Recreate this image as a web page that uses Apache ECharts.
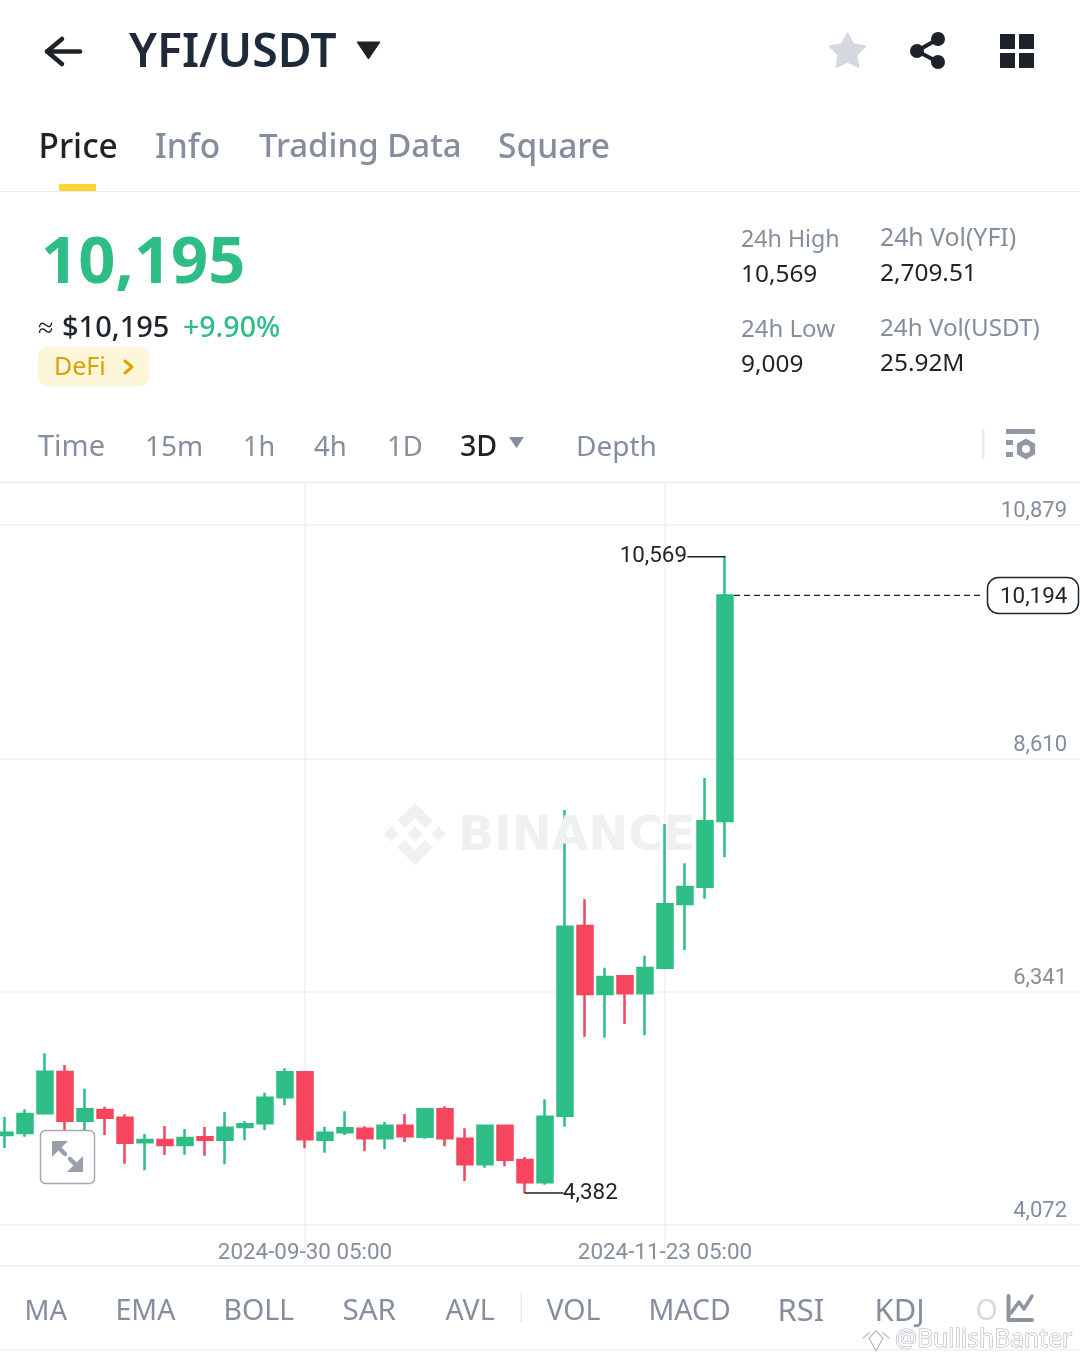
<!DOCTYPE html>
<html><head><meta charset="utf-8"><style>html,body{margin:0;padding:0;background:#fff}#c{width:1080px;height:1361px}</style>
<script src="https://cdn.jsdelivr.net/npm/echarts@6/dist/echarts.min.js"></script></head><body><div id="c"></div>
<script>
const categories = ["2024-08-16 05:00","2024-08-19 05:00","2024-08-22 05:00","2024-08-25 05:00","2024-08-28 05:00","2024-08-31 05:00","2024-09-03 05:00","2024-09-06 05:00","2024-09-09 05:00","2024-09-12 05:00","2024-09-15 05:00","2024-09-18 05:00","2024-09-21 05:00","2024-09-24 05:00","2024-09-27 05:00","2024-09-30 05:00","2024-10-03 05:00","2024-10-06 05:00","2024-10-09 05:00","2024-10-12 05:00","2024-10-15 05:00","2024-10-18 05:00","2024-10-21 05:00","2024-10-24 05:00","2024-10-27 05:00","2024-10-30 05:00","2024-11-02 05:00","2024-11-05 05:00","2024-11-08 05:00","2024-11-11 05:00","2024-11-14 05:00","2024-11-17 05:00","2024-11-20 05:00","2024-11-23 05:00","2024-11-26 05:00","2024-11-29 05:00","2024-12-02 05:00","2024-12-05 05:00","2024-12-08 05:00","2024-12-11 05:00","2024-12-14 05:00","2024-12-17 05:00","2024-12-20 05:00","2024-12-23 05:00","2024-12-26 05:00","2024-12-29 05:00","2025-01-01 05:00","2025-01-04 05:00","2025-01-07 05:00","2025-01-10 05:00","2025-01-13 05:00","2025-01-16 05:00","2025-01-19 05:00","2025-01-22 05:00","2025-01-25 05:00"];
const xTickLabels = ["2024-09-30 05:00","2024-11-23 05:00"];
const yTicks = [4072,6341,8610,10879];
const opens  = [4947,4967,5158,5560,5086,5190,5115,4876,4899,4850,4925,4901,5025,5061,5314,5557,4901,4973,5008,4915,5038,4931,5197,4911,4662,5038,4704,4487,5135,6980,6318,6490,6325,6574,7193,7362,8001];
const closes = [4970,5151,5563,5086,5197,5115,4872,4899,4850,4918,4901,5018,5051,5310,5557,4905,4970,5012,4915,5038,4934,5197,4915,4662,5038,4707,4487,5125,6973,6318,6484,6325,6571,7191,7359,7998,10194];
const lows   = [4821,4931,5156,4996,4996,4947,4668,4604,4753,4756,4746,4662,4896,4996,5236,4818,4775,4947,4789,4808,4879,4911,4837,4500,4629,4643,4382,4464,5028,5903,5893,6027,5917,6558,6746,7245,7648];
const highs  = [5122,5197,5742,5628,5397,5222,5148,4957,5035,5005,5025,5171,5083,5358,5596,5557,5028,5178,5032,5074,5151,5210,5226,5012,5038,5038,4733,5294,8108,7239,6574,6503,6691,7971,7589,8419,10569];
const highLabel = 10569, lowLabel = 4382, lastLabel = 10194;

const UP='#2EBD85', DOWN='#F6465D', INK='#1E2329', GREY='#848E9C', RULE='#F0F1F3';
const FONT='"Noto Sans"';
const chart = echarts.init(document.getElementById('c'));
const fmt = v => v.toLocaleString('en-US');
chart.setOption({
  animation:false, backgroundColor:'#fff',
  grid:{left:-5,top:483,width:1100,height:782,outerBoundsMode:'none'},
  xAxis:{type:'category',data:categories,boundaryGap:true,
    axisLine:{show:false},axisTick:{show:false},
    axisLabel:{inside:true,margin:1,verticalAlign:'bottom',color:GREY,fontSize:22.4,fontFamily:'Roboto',
      interval:(i,v)=>xTickLabels.includes(v),formatter:v=>v},
    splitLine:{show:true,alignWithLabel:true,interval:(i,v)=>xTickLabels.includes(v),lineStyle:{color:RULE,width:1.5}}},
  yAxis:{type:'value',position:'right',min:3683,max:11287,scale:true,
    axisLine:{show:false},axisTick:{show:false,customValues:yTicks},
    axisLabel:{inside:true,margin:28,verticalAlign:'bottom',padding:[0,0,2,0],color:GREY,fontSize:22,fontFamily:'Roboto',customValues:yTicks,formatter:v=>fmt(v)},
    splitLine:{show:true,lineStyle:{color:RULE,width:1.5}}},
  series:[{type:'candlestick',barWidth:15.5,clip:false,z:5,
    data:opens.map((o,i)=>[o,closes[i],lows[i],highs[i]]),
    itemStyle:{color:UP,color0:DOWN,borderColor:UP,borderColor0:DOWN,borderWidth:2.5}}]
});

function T(text,x,y,size,fill,weight,family,extra){
  return {type:'text',z:60,silent:true,style:Object.assign({text,x,y,fill,align:'left',verticalAlign:'middle',
    font:`${weight||400} ${size}px ${family||FONT}`},extra||{})};
}
function R(x,y,w,h,fill,r,z,extra){return {type:'rect',z:z||60,silent:true,shape:{x,y,width:w,height:h,r:r||0},style:Object.assign({fill},extra||{})};}
function P(points,fill,z,extra){return {type:'polygon',z:z||60,silent:true,shape:{points},style:Object.assign({fill},extra||{})};}
function L(points,stroke,w,z){return {type:'polyline',z:z||60,silent:true,shape:{points},style:{stroke,lineWidth:w,fill:'none',lineCap:'round',lineJoin:'round'}};}
function C(cx,cy,r,fill,z){return {type:'circle',z:z||60,silent:true,shape:{cx,cy,r},style:{fill}};}

const hiI = highs.indexOf(highLabel), loI = lows.indexOf(lowLabel), lastI = closes.length-1;
const toPx = (i,v)=>chart.convertToPixel({xAxisIndex:0,yAxisIndex:0},[i,v]);
const hi = toPx(hiI,highLabel), lo = toPx(loI,lowLabel), last = toPx(lastI,lastLabel);

const star=[];for(let k=0;k<10;k++){const a=-Math.PI/2+k*Math.PI/5,r=k%2?9.5:18.5;star.push([847.5+r*Math.cos(a),52+r*Math.sin(a)]);}
const hex=[];for(let k=0;k<6;k++){const a=-Math.PI/2+k*Math.PI/3;hex.push([1026+10.5*Math.cos(a),449+10.5*Math.sin(a)]);}
const logo=(cx,cy,f)=>[
  P([[cx,cy-7.5],[cx+7.5,cy],[cx,cy+7.5],[cx-7.5,cy]],f,1),
  P([[cx-24,cy-7.5],[cx-16.5,cy],[cx-24,cy+7.5],[cx-31,cy]],f,1),
  P([[cx+24,cy-7.5],[cx+31,cy],[cx+24,cy+7.5],[cx+16.5,cy]],f,1),
  P([[cx,cy-31],[cx+17.5,cy-13.5],[cx+10,cy-6],[cx,cy-16],[cx-10,cy-6],[cx-17.5,cy-13.5]],f,1),
  P([[cx,cy+31],[cx+17.5,cy+13.5],[cx+10,cy+6],[cx,cy+16],[cx-10,cy+6],[cx-17.5,cy+13.5]],f,1)];

const els=[
  // header
  L([[62,39],[47,51.5],[62,64]],INK,4.5), L([[47,51.5],[80,51.5]],INK,4.5),
  T('YFI/USDT',129,54,46.4,'#1E2A3A',600),
  P([[357,42],[380,42],[368.5,59]],INK,60,{stroke:INK,lineWidth:1,lineJoin:'round'}),
  P(star,'#D5D9DF',60,{stroke:'#D5D9DF',lineWidth:2,lineJoin:'round'}),
  L([[938,39],[917,51],[938,62]],INK,4), C(938,39,7,INK),C(917,51,7,INK),C(938,62,7,INK),
  R(1000,34,15,15,INK),R(1019,34,15,15,INK),R(1000,53,15,15,INK),R(1019,53,15,15,INK),
  // tabs
  T('Price',38.5,148,33.5,INK,500),T('Info',155,148,33.5,GREY,500),T('Trading Data',259,148,33,GREY,500),T('Square',498,148,33.5,GREY,500),
  R(59,184,37,7,'#FCD535'),R(0,191,1080,1,'#EAECEF'),
  // price block
  T('10,195',41,264,65,UP,700),
  T('≈',38,329,28,INK,500),T('$10,195',62,329,29,INK,500),T('+9.90%',183,329,28.5,UP,500),
  R(38,347,111,39,'#FEF6D8',8),T('DeFi',54,368,25,'#D9A20B'),
  L([[125,361],[132,367],[125,373]],'#D9A20B',3),
  T('24h High',741,240,23.2,GREY),T('10,569',741,275,24.4,INK),
  T('24h Vol(YFI)',880,239,24.8,GREY),T('2,709.51',880,274,24.4,INK),
  T('24h Low',741,330,24,GREY),T('9,009',741,365,24.4,INK),
  T('24h Vol(USDT)',880,329,24.2,GREY),T('25.92M',880,364,24.4,INK),
  // interval tabs
  T('Time',38,448,29,GREY),T('15m',145,448,28,GREY),T('1h',243,448,27,GREY),T('4h',314,448,27.5,GREY),T('1D',387,448,27.5,GREY),
  T('3D',460,448,28.6,INK,500),P([[509,437],[524,437],[516.5,448]],GREY),T('Depth',576,448,28,GREY),
  R(982,429,2.5,30,'#E6E8EB'),
  R(1006,429,29,5,'#9299A4'),R(1006,440,7,5,'#9299A4'),R(1006,452,7,5,'#9299A4'),P(hex,'#9299A4'),C(1026,449,4,'#fff'),
  R(0,481,1080,3,'#F2F3F5',0,3),
  // watermark
  ...logo(415,834,'#EEF0F1'),
  T('BINANCE',458,838,47.5,'#EEF0F1',700,'"DejaVu Sans"'),
  // expand button
  R(40.5,1130.5,54,53,'rgba(255,255,255,0.97)',5,30,{stroke:'#A3A8B2',lineWidth:1.5}),
  P([[52,1141],[68,1141],[52,1157]],'#9AA0AB',31),L([[58,1147],[65,1154]],'#9AA0AB',4.5,31),
  P([[83,1156],[83,1172],[67,1172]],'#9AA0AB',31),L([[77,1166],[70,1159]],'#9AA0AB',4.5,31),
  // bottom row
  R(0,1265,1080,1.5,'#EEF0F2',0,3),R(0,1349,1080,1.5,'#EEF0F2',0,3),
  T('MA',24.5,1312,27.5,GREY),T('EMA',115.5,1312,28.5,GREY),T('BOLL',223.5,1312,28.5,GREY),T('SAR',342.5,1312,29.5,GREY),T('AVL',445.5,1312,28.5,GREY),
  R(520.5,1293,1.5,29,'#E6E8EB'),
  T('VOL',546.5,1312,28.5,GREY),T('MACD',648.5,1312,28.5,GREY),T('RSI',777.5,1312,31,GREY),T('KDJ',874.5,1312,31,GREY),T('O',975.5,1312,28.5,'#D5D9DF'),
  L([[1008.5,1296],[1008.5,1320],[1032,1320]],'#8E95A1',4),L([[1011,1313],[1019,1302],[1024,1309],[1032,1296]],'#8E95A1',3.5),
  // watermark handle
  T('@BullishBanter',895,1340,24.6,'rgba(255,255,255,0.85)',400,FONT,{stroke:'#A9AEB6',lineWidth:1}),
  L([[876,1331],[869,1338],[876,1351],[883,1338],[876,1331]],'#B5BAC1',1.2),L([[863,1338],[869,1333]],'#B5BAC1',1.2),L([[889,1338],[883,1333]],'#B5BAC1',1.2),
  // price annotations, positioned through the chart's own scales
  L([[hi[0],hi[1]],[hi[0]-37,hi[1]]],INK,1.5), T(fmt(highLabel),hi[0]-38,hi[1],22.4,INK,400,'Roboto',{align:'right'}),
  L([[lo[0],lo[1]],[lo[0]+38,lo[1]]],INK,1.5), T(fmt(lowLabel),lo[0]+38,lo[1],22.4,INK,400,'Roboto'),
  {type:'line',z:55,silent:true,shape:{x1:last[0]+9,y1:last[1],x2:981,y2:last[1]},style:{stroke:INK,lineWidth:1.3,lineDash:[6,4]}},
  R(987.5,577.5,91,36,'#fff',11,56,{stroke:INK,lineWidth:1.5}),
  T(fmt(lastLabel),1000,last[1]+2,22.4,INK,400,'Roboto')
];
chart.setOption({graphic:{elements:els}});
</script></body></html>
